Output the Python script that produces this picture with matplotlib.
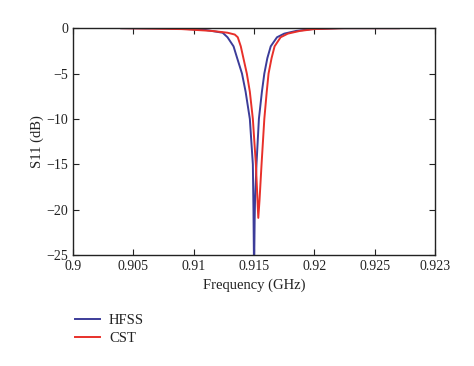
import matplotlib
matplotlib.use("Agg")
import matplotlib.pyplot as plt

plt.rcParams['font.family'] = ['Liberation Serif', 'DejaVu Serif']

# HFSS simulation (GHz, dB)
hfss_f = [0.904, 0.907, 0.909, 0.911, 0.9124, 0.9128, 0.9133, 0.9136, 0.9140,
          0.9143, 0.91465, 0.9149, 0.91495, 0.9150, 0.91505, 0.91508, 0.9152,
          0.9154, 0.91565, 0.91585, 0.9161, 0.91638, 0.9169, 0.9175, 0.9185,
          0.9198, 0.922, 0.927]
hfss_db = [0, -0.02, -0.06, -0.2, -0.5, -1.0, -2.0, -3.3, -5.0,
           -7.0, -10.0, -15.0, -20.0, -27.0, -21.0, -19.0, -15.0,
           -10.0, -7.0, -5.0, -3.3, -2.0, -1.0, -0.6, -0.3,
           -0.1, 0, 0]

# CST simulation (GHz, dB)
cst_f = [0.904, 0.909, 0.9115, 0.9128, 0.9134, 0.91365, 0.9139, 0.91415, 0.9144,
         0.91465, 0.9149, 0.91515, 0.91535, 0.91545, 0.91562, 0.91585, 0.91605,
         0.9162, 0.91645, 0.9167, 0.9172, 0.9178, 0.9188, 0.920, 0.9225, 0.927]
cst_db = [0, -0.1, -0.3, -0.5, -0.7, -1.0, -2.0, -3.5, -5.0,
          -7.0, -10.0, -15.0, -20.9, -19.0, -15.0, -10.0, -7.0,
          -5.0, -3.3, -2.0, -1.0, -0.6, -0.3, -0.1, 0, 0]

xticks = [0.9, 0.905, 0.91, 0.915, 0.92, 0.925, 0.93]
xticklabels = ['0.9', '0.905', '0.91', '0.915', '0.92', '0.925', '0.923']
yticks = [0, -5, -10, -15, -20, -25]
yticklabels = ['0', '\u22125', '\u221210', '\u221215', '\u221220', '\u221225']

fig = plt.figure(figsize=(4.74, 3.66), dpi=100)
ax = fig.add_axes([0.154, 0.303, 0.764, 0.62])

ax.plot(hfss_f, hfss_db, color='#3c3c99', lw=1.4, label='HFSS')
ax.plot(cst_f, cst_db, color='#e8302a', lw=1.4, label='CST')

ax.set_xlim(0.9, 0.93)
ax.set_ylim(-25, 0)
ax.set_xticks(xticks)
ax.set_xticklabels(xticklabels)
ax.set_yticks(yticks)
ax.set_yticklabels(yticklabels)
ax.tick_params(direction='in', top=True, right=True, labelsize=10, length=4,
               color='#222222', labelcolor='#222222')
for s in ax.spines.values():
    s.set_color('#222222')
    s.set_linewidth(1.0)

ax.set_xlabel('Frequency (GHz)', fontsize=10.5, labelpad=4, color='#222222')
ax.set_ylabel('S11 (dB)', fontsize=10.5, labelpad=2, color='#222222')

fig.legend(loc='upper left', bbox_to_anchor=(0.13, 0.178), frameon=False,
           fontsize=10.5, handlelength=1.75, handletextpad=0.6, labelspacing=0.35,
           labelcolor='#222222')

fig.savefig('out.png', dpi=100)
